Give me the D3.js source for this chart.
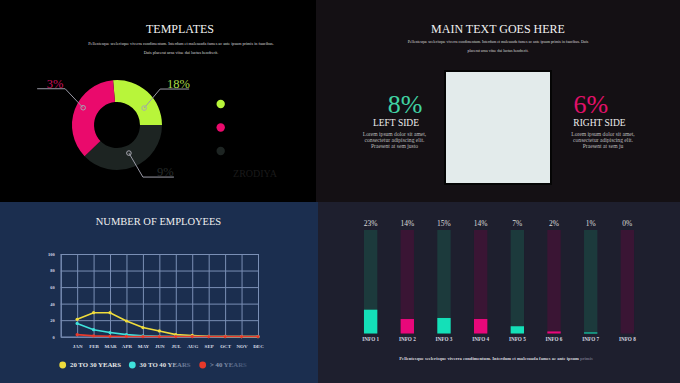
<!DOCTYPE html>
<html><head><meta charset="utf-8">
<script src="https://cdn.jsdelivr.net/npm/d3@7/dist/d3.min.js"></script>
<style>
html,body{margin:0;padding:0;background:#000;}
svg{display:block;}
text{font-family:"Liberation Serif","Times New Roman",serif;}
</style></head>
<body>
<script>
// ---------- DATA ----------
// Donut (top-left): slice shares, with their printed labels
const donutNames = ["green", "dark", "pink"];
const donutShares = [26.4, 37.8, 35.8];
const donutLabels = ["18%", "9%", "3%"];
const donutLegendOrder = ["green", "pink", "dark"];

// Side stats (top-right)
const sideValues = ["8%", "6%"];
const sideTitles = ["LEFT SIDE", "RIGHT SIDE"];

// Line chart (bottom-left)
const months = ["JAN","FEB","MAR","APR","MAY","JUN","JUL","AUG","SEP","OCT","NOV","DEC"];
const seriesNames = ["20 TO 30 YEARS", "30 TO 40 YEARS", "> 40 YEARS"];
const s20to30 = [21, 29, 29, 19, 11, 7, 2.5, 1.5, 0.5, 0.3, 0.2, 0.2];
const s30to40 = [16, 8.5, 5, 2.5, 1, 0.5, 0.3, 0.2, 0.2, 0.2, 0.2, 0.2];
const sOver40 = [2.5, 1, 0.5, 0.3, 0.2, 0.2, 0.2, 0.2, 0.2, 0.2, 0.2, 0.2];
const yTicks = [0, 20, 40, 60, 80, 100];

// Bar chart (bottom-right)
const infoNames = ["INFO 1","INFO 2","INFO 3","INFO 4","INFO 5","INFO 6","INFO 7","INFO 8"];
const infoValues = [23, 14, 15, 14, 7, 2, 1, 0];

const lorem1 = "Pellentesque scelerisque viverra condimentum. Interdum et malesuada fames ac ante ipsum primis in faucibus.";
const lorem2 = "Duis placerat urna vitae dui luctus hendrerit.";

// ---------- SVG ----------
const W = 680, H = 383;
const svg = d3.select("body").append("svg").attr("width", W).attr("height", H);

// panels
svg.append("rect").attr("x",0).attr("y",0).attr("width",316).attr("height",202).attr("fill","#000000");
svg.append("rect").attr("x",316).attr("y",0).attr("width",364).attr("height",202).attr("fill","#141014");
svg.append("rect").attr("x",0).attr("y",202).attr("width",318).attr("height",181).attr("fill","#1b2e4f");
svg.append("rect").attr("x",318).attr("y",202).attr("width",362).attr("height",181).attr("fill","#1e1f2e");

// ---------- TOP-LEFT: donut ----------
const tl = svg.append("g");
tl.append("text").attr("x",180).attr("y",33).attr("text-anchor","middle")
  .attr("font-size",12).attr("fill","#f2f2f2").text("TEMPLATES");
tl.append("text").attr("x",181).attr("y",45).attr("text-anchor","middle")
  .attr("font-size",4.2).attr("fill","#d8d8d8").text(lorem1);
tl.append("text").attr("x",181).attr("y",54).attr("text-anchor","middle")
  .attr("font-size",4.2).attr("fill","#d8d8d8").text(lorem2);

const donutColor = d3.scaleOrdinal().domain(donutNames).range(["#b8f53a", "#1d2422", "#ea0a6c"]);
const labelColor = d3.scaleOrdinal().domain(donutNames).range(["#a9dc4a", "#262b2a", "#cc0f5c"]);
const cx = 117, cy = 125, rIn = 23, rOut = 45;
const deg = Math.PI / 180;
const pieData = d3.pie().sort(null).value(d => d.v).startAngle(-5 * deg).endAngle(355 * deg)(
  donutShares.map((v, i) => ({name: donutNames[i], label: donutLabels[i], v})));
const arc = d3.arc().innerRadius(rIn).outerRadius(rOut);
const dg = tl.append("g").attr("transform", `translate(${cx},${cy})`);
dg.selectAll("path").data(pieData).join("path")
  .attr("d", arc).attr("fill", d => donutColor(d.data.name));

// callouts (layout: angle on ring, elbow offsets)
const callout = {
  green: {ang: 58, r: 32, dx: 16, dy: -19, len: 29, tx: 167, ty: 87.5, anchor: "start"},
  dark:  {ang: 157, r: 30.5, dx: 14, dy: 24, len: 31, tx: 157, ty: 175.5, anchor: "start"},
  pink:  {ang: 297, r: 38, dx: -18, dy: -19, len: 28, tx: 63.5, ty: 87.5, anchor: "end"}
};
pieData.forEach(d => {
  const c = callout[d.data.name];
  const px = cx + c.r * Math.sin(c.ang * deg), py = cy - c.r * Math.cos(c.ang * deg);
  const ex = px + c.dx, ey = py + c.dy;
  const fx = ex + (c.dx > 0 ? c.len : -c.len);
  tl.append("path").attr("d", d3.line()([[px, py], [ex, ey], [fx, ey]]))
    .attr("fill","none").attr("stroke","#9a9aa6").attr("stroke-width",1);
  tl.append("circle").attr("cx",px).attr("cy",py).attr("r",2.3)
    .attr("fill","none").attr("stroke","#a8a8b2").attr("stroke-width",1);
  tl.append("text").attr("x",c.tx).attr("y",c.ty).attr("text-anchor",c.anchor)
    .attr("font-size",12.5).attr("fill",labelColor(d.data.name)).text(d.data.label);
});
// legend dots
const legY = d3.scalePoint().domain(donutLegendOrder).range([104, 151]);
tl.selectAll("circle.leg").data(donutLegendOrder).join("circle").attr("class","leg")
  .attr("cx",220.7).attr("cy",d => legY(d)).attr("r",4.2).attr("fill",d => donutColor(d));
tl.append("text").attr("x",255).attr("y",176.5).attr("text-anchor","middle")
  .attr("font-size",10).attr("fill","#1a1a1a").text("ZRODIYA");

// ---------- TOP-RIGHT ----------
const tr = svg.append("g");
tr.append("text").attr("x",498).attr("y",33).attr("text-anchor","middle")
  .attr("font-size",12).attr("fill","#f2f2f2").text("MAIN TEXT GOES HERE");
tr.append("text").attr("x",498).attr("y",43).attr("text-anchor","middle")
  .attr("font-size",3.9).attr("fill","#d8d8d8").text(lorem1 + " Duis");
tr.append("text").attr("x",498).attr("y",52).attr("text-anchor","middle")
  .attr("font-size",3.9).attr("fill","#d8d8d8").text("placerat urna vitae dui luctus hendrerit.");
tr.append("rect").attr("x",445).attr("y",71).attr("width",106).attr("height",113)
  .attr("fill","#e3ebeb").attr("stroke","#050505").attr("stroke-width",2);

const sides = [
  {val: sideValues[0], title: sideTitles[0], vx: 422.5, vAnchor: "end", tx: 396, color: "#40d2a2",
   body: ["Lorem ipsum dolor sit amet,", "consectetur adipiscing elit.", "Praesent at sem justo"], bx: 394.5},
  {val: sideValues[1], title: sideTitles[1], vx: 573.5, vAnchor: "start", tx: 599.5, color: "#e2106a",
   body: ["Lorem ipsum dolor sit amet,", "consectetur adipiscing elit.", "Praesent at sem ju"], bx: 603}
];
sides.forEach(s => {
  tr.append("text").attr("x",s.vx).attr("y",113).attr("text-anchor",s.vAnchor)
    .attr("font-size",26).attr("fill",s.color).text(s.val);
  tr.append("text").attr("x",s.tx).attr("y",126).attr("text-anchor","middle")
    .attr("font-size",9.5).attr("fill","#eeeeee").text(s.title);
  s.body.forEach((line, i) => {
    tr.append("text").attr("x",s.bx).attr("y",135.5 + i * 6).attr("text-anchor","middle")
      .attr("font-size",5.6).attr("fill","#bdbdbd").text(line);
  });
});

// ---------- BOTTOM-LEFT: line chart ----------
const bl = svg.append("g");
bl.append("text").attr("x",158.5).attr("y",225).attr("text-anchor","middle")
  .attr("font-size",10.5).attr("fill","#f0f0f0").text("NUMBER OF EMPLOYEES");

const pL = 60.7, pR = 258, pT = 254, pB = 336.7;
const x = d3.scalePoint().domain([" ", ...months]).range([pL, pR]);
const y = d3.scaleLinear().domain([0, 100]).range([pB, pT]);
const gridColor = "#7a8fb5";

const gy = bl.append("g").attr("transform",`translate(${pL},0)`)
  .call(d3.axisLeft(y).tickValues(yTicks).tickSize(-(pR - pL)).tickSizeOuter(0).tickPadding(6));
gy.select(".domain").attr("stroke", gridColor);
gy.selectAll(".tick line").attr("stroke", gridColor).attr("stroke-width",1);
gy.selectAll(".tick text").attr("font-size",4.4).attr("font-weight","bold").attr("fill","#d8dce6")
  .attr("font-family","Liberation Serif");

const gx = bl.append("g").attr("transform",`translate(0,${pB})`)
  .call(d3.axisBottom(x).tickSize(-(pB - pT)).tickSizeOuter(0).tickPadding(8));
gx.select(".domain").attr("stroke", gridColor);
gx.selectAll(".tick line").attr("stroke", gridColor).attr("stroke-width",1);
gx.selectAll(".tick text").attr("font-size",5).attr("font-weight","bold").attr("fill","#d8dce6")
  .attr("font-family","Liberation Serif");

const seriesColors = ["#efdc3c", "#3fe2dc", "#e8392a"];
const allSeries = [s20to30, s30to40, sOver40];
const line = d3.line().x((d, i) => x(months[i])).y(d => y(d));
allSeries.forEach((s, k) => {
  bl.append("path").datum(s).attr("d", line).attr("fill","none")
    .attr("stroke", seriesColors[k]).attr("stroke-width",1.6);
  bl.selectAll(null).data(s).join("circle")
    .attr("cx",(d, i) => x(months[i])).attr("cy", d => y(d)).attr("r",1.6)
    .attr("fill", seriesColors[k]);
});

// legend
const legendX = [62.7, 132.3, 202.7];
const defs = svg.append("defs");
const fadeA = defs.append("linearGradient").attr("id","fadeA").attr("x1","0").attr("x2","1");
fadeA.append("stop").attr("offset","0.55").attr("stop-color","#e8e8e8");
fadeA.append("stop").attr("offset","0.75").attr("stop-color","#7d8aa3");
fadeA.append("stop").attr("offset","1").attr("stop-color","#56668a");
const fadeB = defs.append("linearGradient").attr("id","fadeB").attr("x1","0").attr("x2","1");
fadeB.append("stop").attr("offset","0").attr("stop-color","#a8b0c2");
fadeB.append("stop").attr("offset","0.5").attr("stop-color","#6e7d9a");
fadeB.append("stop").attr("offset","1").attr("stop-color","#3a4c6e");
const legendFills = ["#e8e8e8", "url(#fadeA)", "url(#fadeB)"];
seriesNames.forEach((n, k) => {
  bl.append("circle").attr("cx",legendX[k]).attr("cy",365).attr("r",3.4).attr("fill",seriesColors[k]);
  bl.append("text").attr("x",legendX[k] + 7.3).attr("y",367.4)
    .attr("font-size",6.8).attr("font-weight","bold").attr("fill",legendFills[k]).text(n);
});

// ---------- BOTTOM-RIGHT: bars ----------
const br = svg.append("g");
const bx = d3.scaleBand().domain(infoNames).range([352.3, 645.7]).paddingInner(0.636).paddingOuter(0.318);
const by = d3.scaleLinear().domain([0, 100]).range([333.5, 230]);
const trackColors = ["#1c3a3c", "#3a1534"];
const fillColors = ["#14e0b8", "#e8087a"];
br.selectAll("rect.track").data(infoNames).join("rect").attr("class","track")
  .attr("x", d => bx(d)).attr("y", by(100)).attr("width", bx.bandwidth())
  .attr("height", by(0) - by(100)).attr("fill", (d, i) => trackColors[i % 2]);
br.selectAll("rect.val").data(infoValues).join("rect").attr("class","val")
  .attr("x", (d, i) => bx(infoNames[i])).attr("y", d => by(d)).attr("width", bx.bandwidth())
  .attr("height", d => by(0) - by(d)).attr("fill", (d, i) => fillColors[i % 2]);
br.selectAll("text.pct").data(infoValues).join("text").attr("class","pct")
  .attr("x", (d, i) => bx(infoNames[i]) + bx.bandwidth() / 2).attr("y", 226)
  .attr("text-anchor","middle").attr("font-size",7.5).attr("fill","#dcdcdc").text(d => d + "%");
br.selectAll("text.info").data(infoNames).join("text").attr("class","info")
  .attr("x", d => bx(d) + bx.bandwidth() / 2).attr("y", 341)
  .attr("text-anchor","middle").attr("font-size",5.2).attr("font-weight","bold")
  .attr("fill","#d8d8e0").text(d => d);
const foot = br.append("text").attr("x",496).attr("y",359.5).attr("text-anchor","middle")
  .attr("font-size",4.6).attr("font-weight","bold").attr("fill","#d4d4dc");
foot.append("tspan").text("Pellentesque scelerisque viverra condimentum. Interdum et malesuada fames ac ante ipsum ");
foot.append("tspan").attr("fill","#6a6a7e").text("primis");
</script>
</body></html>
